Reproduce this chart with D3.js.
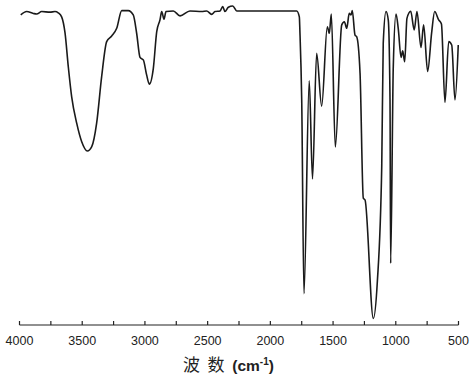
<!DOCTYPE html>
<html>
<head>
<meta charset="utf-8">
<script src="https://cdn.jsdelivr.net/npm/d3@7"></script>
<style>
  body { margin: 0; background: #fff; }
  svg { display: block; }
</style>
</head>
<body>
<div id="chart"></div>
<script>

// wavenumber (cm-1) and transmittance (%)
var wavenumbers = [3990, 3943, 3890, 3863, 3823, 3757, 3717, 3691, 3664, 3637, 3611, 3584, 3544, 3504, 3459,
                   3424, 3385, 3345, 3305, 3265, 3225, 3185, 3133, 3093, 3066, 3039, 3013, 2986, 2965, 2933,
                   2906, 2880, 2866, 2848, 2832, 2774, 2720, 2641, 2547, 2508, 2468, 2441, 2401, 2380, 2362,
                   2335, 2300, 2268, 1790, 1769, 1764, 1750, 1732, 1690, 1664, 1631, 1591, 1546, 1530, 1514,
                   1482, 1431, 1410, 1391, 1371, 1357, 1347, 1325, 1312, 1285, 1259, 1245, 1179, 1147, 1112,
                   1100, 1078, 1060, 1046, 1041, 1020, 998, 980, 958, 945, 929, 911, 881, 853, 831,
                   799, 778, 746, 714, 690, 658, 636, 608, 578, 554, 528, 502];
var transmittance = [98.4, 99.5, 98.9, 98.7, 99.5, 99.3, 99.5, 99.1, 97.8, 92.6, 81.7, 72.0, 63.5, 57.5, 54.5,
                     55.9, 63.5, 78.5, 89.8, 91.6, 94.1, 99.8, 99.8, 98.4, 92.5, 84.7, 83.9, 79.0, 76.1, 81.2,
                     93.0, 96.8, 99.5, 97.0, 99.5, 99.7, 98.1, 99.7, 99.5, 99.7, 98.6, 99.5, 99.7, 101.1, 99.5,
                     100.9, 101.3, 99.7, 99.7, 97.8, 92.6, 71.0, 8.5, 77.2, 45.5, 86.0, 69.0, 94.6, 92.5, 98.7,
                     55.8, 95.2, 96.2, 94.1, 98.9, 98.4, 99.8, 91.9, 91.4, 79.7, 39.3, 38.7, 0.5, 12.4, 49.5,
                     89.3, 99.5, 96.8, 71.0, 18.3, 81.7, 98.7, 93.9, 84.7, 86.8, 83.3, 97.3, 99.6, 93.6, 99.5,
                     87.9, 95.2, 80.2, 92.7, 99.5, 96.8, 95.5, 70.2, 89.8, 88.7, 71.0, 88.7];
var xTicks = [4000, 3500, 3000, 2500, 2000, 1500, 1000, 500];
var xMinorTicks = [3750, 3250, 2750, 2250, 1750, 1250, 750];

var w = 474;
var h = 379;

var spectrum = wavenumbers.map(function(d, i) {
  return { wn: d, t: transmittance[i] };
});

var svg = d3.select('#chart').append('svg')
            .attr('width', w)
            .attr('height', h);

var x = d3.scaleLinear()
          .domain([4000, 500])
          .range([19.5, 458.5]);

var y = d3.scaleLinear()
          .domain([0, 100])
          .range([320, 10]);

// bottom axis, ticks pointing up into the plot
var axisY = 325;

svg.append('line')
   .attr('x1', x(4000))
   .attr('x2', x(500))
   .attr('y1', axisY)
   .attr('y2', axisY)
   .attr('stroke', '#222')
   .attr('stroke-width', 1.2);

svg.selectAll('.majorTick')
   .data(xTicks)
   .enter()
   .append('line')
   .attr('class', 'majorTick')
   .attr('x1', function(d) { return x(d) })
   .attr('x2', function(d) { return x(d) })
   .attr('y1', axisY)
   .attr('y2', axisY - 4)
   .attr('stroke', '#222')
   .attr('stroke-width', 1.2);

svg.selectAll('.minorTick')
   .data(xMinorTicks)
   .enter()
   .append('line')
   .attr('class', 'minorTick')
   .attr('x1', function(d) { return x(d) })
   .attr('x2', function(d) { return x(d) })
   .attr('y1', axisY)
   .attr('y2', axisY - 4)
   .attr('stroke', '#222')
   .attr('stroke-width', 1.2);

svg.selectAll('.tickLabel')
   .data(xTicks)
   .enter()
   .append('text')
   .attr('class', 'tickLabel')
   .attr('x', function(d) { return x(d) })
   .attr('y', 345)
   .attr('text-anchor', 'middle')
   .style('font-family', '"Liberation Sans", Arial, sans-serif')
   .style('font-size', '12.5px')
   .style('fill', '#222')
   .text(function(d) { return d });

// axis title
var title = svg.append('text')
               .attr('x', 183)
               .attr('y', 371)
               .style('fill', '#222');

title.append('tspan')
     .style('font-family', '"Noto Sans CJK SC", sans-serif')
     .style('font-size', '17px')
     .text('波\u00a0\u00a0数\u00a0\u00a0');

title.append('tspan')
     .style('font-family', '"Liberation Sans", Arial, sans-serif')
     .style('font-size', '15.5px')
     .style('font-weight', 'bold')
     .text('(cm');

title.append('tspan')
     .attr('dy', -6)
     .style('font-family', '"Liberation Sans", Arial, sans-serif')
     .style('font-size', '10px')
     .style('font-weight', 'bold')
     .text('-1');

title.append('tspan')
     .attr('dy', 6)
     .style('font-family', '"Liberation Sans", Arial, sans-serif')
     .style('font-size', '15.5px')
     .style('font-weight', 'bold')
     .text(')');

// spectrum
var line = d3.line()
             .x(function(d) { return x(d.wn) })
             .y(function(d) { return y(d.t) })
             .curve(d3.curveMonotoneX);

svg.append('path')
   .datum(spectrum)
   .attr('d', line)
   .attr('fill', 'none')
   .attr('stroke', '#1a1a1a')
   .attr('stroke-width', 1.6)
   .attr('stroke-linejoin', 'round');

</script>
</body>
</html>
